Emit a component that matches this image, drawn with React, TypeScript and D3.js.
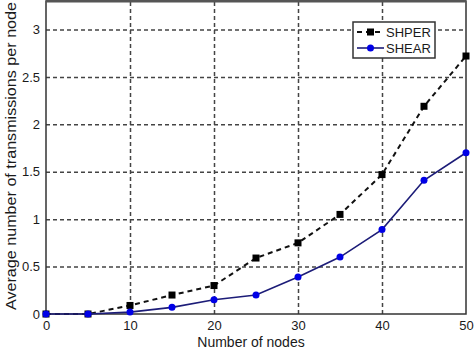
import { useRef, useEffect } from 'react';
import * as d3 from 'd3';

const nodes = [0, 5, 10, 15, 20, 25, 30, 35, 40, 45, 50];
const shper = [0, 0, 0.09, 0.2, 0.3, 0.59, 0.75, 1.05, 1.47, 2.19, 2.72];
const shear = [0, 0, 0.02, 0.07, 0.15, 0.2, 0.39, 0.6, 0.89, 1.41, 1.7];
const xTicks = [0, 10, 20, 30, 40, 50];
const yTicks = [0, 0.5, 1, 1.5, 2, 2.5, 3];

export default function App() {
  const svgRef = useRef<SVGSVGElement>(null);

  useEffect(() => {
    if (!svgRef.current) return;
    const svg = d3.select(svgRef.current);
    svg.selectAll('*').remove();

    const width = 474;
    const height = 353;
    const margin = { top: 1, right: 8, bottom: 39, left: 46 };
    const innerW = width - margin.left - margin.right;
    const innerH = height - margin.top - margin.bottom;
    const font = 'Liberation Sans, Arial, sans-serif';

    svg.attr('width', width).attr('height', height);
    svg.append('rect').attr('width', width).attr('height', height).attr('fill', '#fff');

    const x = d3.scaleLinear().domain([0, 50]).range([0, innerW]);
    const y = d3.scaleLinear().domain([0, 3.3]).range([innerH, 0]);

    const g = svg.append('g').attr('transform', `translate(${margin.left},${margin.top})`);

    // Grid
    g.append('g')
      .call(d3.axisLeft(y).tickValues(yTicks.slice(1)).tickSize(-innerW).tickFormat(() => ''))
      .call((g) => {
        g.select('.domain').remove();
        g.selectAll('line').attr('stroke', '#444').attr('stroke-width', 1.5).attr('stroke-dasharray', '4,3');
      });
    g.append('g')
      .attr('transform', `translate(0,${innerH})`)
      .call(d3.axisBottom(x).tickValues(xTicks.slice(1, -1)).tickSize(-innerH).tickFormat(() => ''))
      .call((g) => {
        g.select('.domain').remove();
        g.selectAll('line').attr('stroke', '#444').attr('stroke-width', 1.5).attr('stroke-dasharray', '4,3');
      });

    // Box
    g.append('rect')
      .attr('x', 0).attr('y', 0).attr('width', innerW).attr('height', innerH)
      .attr('fill', 'none').attr('stroke', '#333').attr('stroke-width', 1.5);
    g.append('line')
      .attr('x1', 0).attr('x2', innerW).attr('y1', 0).attr('y2', 0)
      .attr('stroke', '#555').attr('stroke-width', 3);

    const line = d3.line<number>()
      .x((_, i) => x(nodes[i]))
      .y((d) => y(d));

    // SHPER
    g.append('path')
      .datum(shper)
      .attr('d', line)
      .attr('fill', 'none')
      .attr('stroke', '#111')
      .attr('stroke-width', 2)
      .attr('stroke-dasharray', '5,4');
    g.selectAll(null)
      .data(shper)
      .join('rect')
      .attr('x', (_, i) => x(nodes[i]) - 3.5)
      .attr('y', (d) => y(d) - 3.5)
      .attr('width', 7).attr('height', 7)
      .attr('fill', '#000');

    // SHEAR
    g.append('path')
      .datum(shear)
      .attr('d', line)
      .attr('fill', 'none')
      .attr('stroke', '#1c1c78')
      .attr('stroke-width', 1.6);
    g.selectAll(null)
      .data(shear)
      .join('circle')
      .attr('cx', (_, i) => x(nodes[i]))
      .attr('cy', (d) => y(d))
      .attr('r', 3.5)
      .attr('fill', '#0000e6');

    // Tick labels
    g.append('g')
      .attr('transform', `translate(0,${innerH})`)
      .call(d3.axisBottom(x).tickValues(xTicks).tickSize(0).tickPadding(7))
      .call((g) => {
        g.select('.domain').remove();
        g.selectAll('text').attr('fill', '#1a1a1a').style('font-size', '13px').style('font-family', font);
      });
    g.append('g')
      .call(d3.axisLeft(y).tickValues(yTicks).tickSize(0).tickPadding(6).tickFormat((d) => `${d}`))
      .call((g) => {
        g.select('.domain').remove();
        g.selectAll('text').attr('fill', '#1a1a1a').style('font-size', '13px').style('font-family', font);
      });

    // Labels
    svg.append('text')
      .attr('x', margin.left + innerW / 2 - 5).attr('y', height - 6)
      .attr('text-anchor', 'middle')
      .attr('fill', '#1a1a1a').style('font-size', '14px').style('font-family', font)
      .text('Number of nodes');
    svg.append('text')
      .attr('transform', 'translate(16, 156) rotate(-90)')
      .attr('x', -154)
      .attr('textLength', 308)
      .attr('lengthAdjust', 'spacingAndGlyphs')
      .attr('fill', '#1a1a1a').style('font-size', '15px').style('font-family', font)
      .text('Average number of transmissions per node');

    // Legend
    const lg = svg.append('g').attr('transform', 'translate(353, 22)');
    lg.append('rect')
      .attr('width', 82).attr('height', 36)
      .attr('fill', '#fff').attr('stroke', '#333').attr('stroke-width', 1.5);
    lg.append('line')
      .attr('x1', 4).attr('x2', 31).attr('y1', 10).attr('y2', 10)
      .attr('stroke', '#111').attr('stroke-width', 2).attr('stroke-dasharray', '5,4');
    lg.append('rect').attr('x', 14).attr('y', 6.5).attr('width', 7).attr('height', 7).attr('fill', '#000');
    lg.append('line')
      .attr('x1', 4).attr('x2', 31).attr('y1', 26).attr('y2', 26)
      .attr('stroke', '#1c1c78').attr('stroke-width', 1.6);
    lg.append('circle').attr('cx', 17.5).attr('cy', 26).attr('r', 3.5).attr('fill', '#0000e6');
    [['SHPER', 10], ['SHEAR', 26]].forEach(([t, yy]) => {
      lg.append('text')
        .attr('x', 33).attr('y', (yy as number) + 5)
        .attr('fill', '#1a1a1a').style('font-size', '13px').style('font-family', font)
        .text(t as string);
    });
  }, []);

  return (
    <div style={{ position: 'absolute', left: 0, top: 0 }}>
      <svg ref={svgRef} style={{ display: 'block' }} />
    </div>
  );
}
